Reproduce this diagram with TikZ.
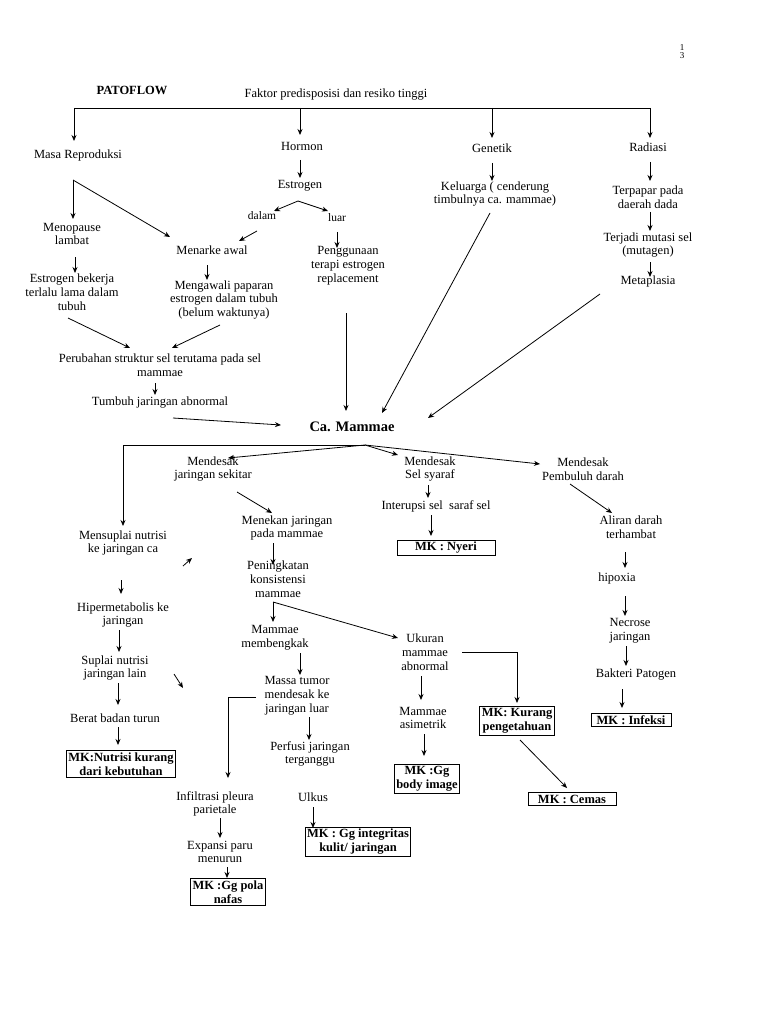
\documentclass[tikz,border=0pt]{standalone}
\usepackage{fontspec}
\setmainfont{Liberation Serif}
\usetikzlibrary{arrows.meta}
\begin{document}
\begin{tikzpicture}[x=1pt,y=-1pt,
  t/.style={align=center,inner sep=0pt,font=\fontsize{12.5}{13.8}\selectfont},
  mk/.style={draw,line width=1pt,align=center,inner sep=2pt,font=\fontsize{12.5}{14}\selectfont\bfseries},
  ar/.style={-{Stealth[length=6pt,width=5pt]},line width=0.8pt},
  ln/.style={line width=0.8pt}]
\useasboundingbox (0,0) rectangle (768,1024);
\node[t,font=\fontsize{9}{8}\selectfont] (pg) at (682,52) {1\\3};
\node[t,font=\fontsize{12.5}{14}\selectfont\bfseries] (pat) at (132,90) {PATOFLOW};
\node[t] (fak) at (336,95) {Faktor predisposisi dan resiko tinggi};
\draw[ln] (74,108) -- (650,108);
\draw[ar] (74,108) -- (74,141);
\draw[ar] (300,108) -- (300,135);
\draw[ar] (492,108) -- (492,138);
\draw[ar] (650,108) -- (650,138);
\node[t] (masa) at (78,155) {Masa Reproduksi};
\node[t] (hor) at (302,146) {Hormon};
\node[t] (gen) at (492,148) {Genetik};
\node[t] (rad) at (648,147) {Radiasi};
\draw[ar] (73,180) -- (73,219);
\draw[ar] (73,180) -- (170,237);
\node[t] (meno) at (72,234) {Menopause\\lambat};
\node[t] (men) at (212,250) {Menarke awal};
\draw[ar] (300,160) -- (300,178);
\node[t] (est) at (300,186) {Estrogen};
\draw[ar] (298,201) -- (274,211);
\draw[ar] (298,201) -- (328,211);
\node[t,font=\fontsize{11.5}{13}\selectfont] (dal) at (262,216) {dalam};
\node[t,font=\fontsize{11.5}{13}\selectfont] (lu) at (337,218) {luar};
\draw[ar] (257,231) -- (239,241);
\draw[ar] (337,232) -- (337,248);
\node[t] (peng) at (348,266) {Penggunaan\\terapi estrogen\\replacement};
\draw[ar] (75,257) -- (75,273);
\node[t] (eb) at (72,292) {Estrogen bekerja\\terlalu lama dalam\\tubuh};
\draw[ar] (207,265) -- (207,280);
\node[t] (mgw) at (224,300) {Mengawali paparan\\estrogen dalam tubuh\\(belum waktunya)};
\draw[ar] (68,318) -- (130,348);
\draw[ar] (220,325) -- (172,348);
\node[t] (per) at (160,365) {Perubahan struktur sel terutama pada sel\\mammae};
\draw[ar] (155,383) -- (155,395);
\node[t] (tum) at (160,403) {Tumbuh jaringan abnormal};
\draw[ar] (173,418) -- (281,425);
\node[t,font=\fontsize{14.5}{16}\selectfont\bfseries] (ca) at (352,427) {Ca. Mammae};
\draw[ar] (346,313) -- (346,411);
\node[t] (kel) at (495,194) {Keluarga ( cenderung\\timbulnya ca. mammae)};
\draw[ar] (492,163) -- (492,181);
\draw[ar] (490,213) -- (382,413);
\draw[ar] (650,162) -- (650,181);
\node[t] (terp) at (648,197) {Terpapar pada\\daerah dada};
\draw[ar] (650,212) -- (650,231);
\node[t] (mut) at (648,245) {Terjadi mutasi sel\\(mutagen)};
\draw[ar] (650,262) -- (650,277);
\node[t] (meta) at (648,281) {Metaplasia};
\draw[ar] (600,294) -- (428,418);
% lower part
\draw[ln] (123,445) -- (365,445);
\draw[ar] (123,445) -- (123,526);
\draw[ar] (365,445) -- (228,458);
\draw[ar] (365,445) -- (398,455);
\draw[ar] (365,445) -- (540,464);
\node[t] (mjs) at (213,469) {Mendesak\\jaringan sekitar};
\node[t] (mss) at (430,469) {Mendesak\\Sel syaraf};
\node[t] (mpd) at (583,469) {Mendesak\\Pembuluh darah};
\draw[ar] (237,492) -- (272,513);
\node[t] (mek) at (287,528) {Menekan jaringan\\pada mammae};
\node[t] (msup) at (123,543) {Mensuplai nutrisi\\ke jaringan ca};
\draw[ar] (183,566) -- (192,558);
\draw[ar] (273,543) -- (273,565);
\node[t] (pen) at (278,579) {Peningkatan\\konsistensi\\mammae};
\draw[ar] (121,580) -- (121,594);
\node[t] (hip) at (123,615) {Hipermetabolis ke\\jaringan};
\draw[ar] (119,630) -- (119,652);
\node[t] (sup) at (115,668) {Suplai nutrisi\\jaringan lain};
\draw[ar] (118,683) -- (118,705);
\node[t] (ber) at (115,718) {Berat badan turun};
\draw[ar] (118,727) -- (118,745);
\node[mk] (mk1) at (121,764) {MK:Nutrisi kurang\\dari kebutuhan};
\draw[ar] (174,674) -- (183,688);
\draw[ar] (273,602) -- (273,622);
\draw[ar] (273,602) -- (398,638);
\node[t] (mb) at (275,638) {Mammae\\membengkak};
\draw[ar] (300,653) -- (300,675);
\node[t] (mt) at (297,696) {Massa tumor\\mendesak ke\\jaringan luar};
\draw[ar] (309,717) -- (309,740);
\node[t] (perf) at (310,754) {Perfusi jaringan\\terganggu};
\node[t] (ulk) at (313,797) {Ulkus};
\draw[ar] (313,807) -- (313,828);
\node[mk] (mk2) at (358,842) {MK : Gg integritas\\kulit/ jaringan};
\draw[ln] (256,697) -- (228,697);
\draw[ar] (228,697) -- (228,778);
\node[t] (inf) at (215,804) {Infiltrasi pleura\\parietale};
\draw[ar] (220,818) -- (220,838);
\node[t] (exp) at (220,852) {Expansi paru\\menurun};
\draw[ar] (227,867) -- (227,878);
\node[mk] (mk3) at (228,892) {MK :Gg pola\\nafas};
\draw[ar] (428,485) -- (428,498);
\node[t] (int) at (436,506) {Interupsi sel\ \ saraf sel};
\draw[ar] (431,515) -- (431,536);
\node[mk,minimum width=98pt] (mk4) at (446,548) {MK : Nyeri};
\node[t] (uk) at (425,652) {Ukuran\\mammae\\abnormal};
\draw[ln] (462,652) -- (517,652);
\draw[ar] (517,652) -- (517,703);
\draw[ar] (421,676) -- (421,700);
\node[t] (asi) at (423,718) {Mammae\\asimetrik};
\draw[ar] (424,734) -- (424,756);
\node[mk] (mk5) at (427,779) {MK :Gg\\body image};
\node[mk] (mk6) at (517,721) {MK: Kurang\\pengetahuan};
\draw[ar] (520,740) -- (567,788);
\node[mk,minimum width=88pt] (mk7) at (572,799) {MK : Cemas};
\draw[ar] (570,484) -- (612,513);
\node[t] (ali) at (631,527) {Aliran darah\\terhambat};
\draw[ar] (625,552) -- (625,568);
\node[t] (hpx) at (617,578) {hipoxia};
\draw[ar] (625,596) -- (625,616);
\node[t] (nec) at (630,631) {Necrose\\jaringan};
\draw[ar] (626,646) -- (626,666);
\node[t] (bak) at (636,675) {Bakteri Patogen};
\draw[ar] (622,689) -- (622,708);
\node[mk,minimum width=80pt] (mk8) at (631,720) {MK : Infeksi};
\end{tikzpicture}
\end{document}
